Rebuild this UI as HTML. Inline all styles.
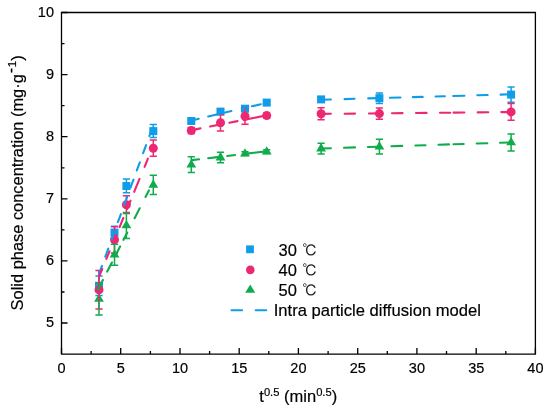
<!DOCTYPE html>
<html><head><meta charset="utf-8"><title>Intra particle diffusion model</title>
<style>
html,body{margin:0;padding:0;background:#fff;}
svg{display:block}
text{font-family:"Liberation Sans",sans-serif;fill:#000;stroke:#000;stroke-width:0.18px}
.tk{font-size:14.5px}
.lg{font-size:16.5px}
.tt{font-size:16.5px}
.sup{font-size:11.2px}
.cj{font-family:"Liberation Sans","IPAGothic","Noto Serif CJK SC",sans-serif;font-size:15.3px;stroke:none;fill:#222}
</style></head><body>
<svg width="550" height="413" viewBox="0 0 550 413">
<rect width="550" height="413" fill="#fff"/>
<path d="M99.0 276.0V295.6M95.4 276.0H102.6M95.4 295.6H102.6" stroke="#0f9dea" stroke-width="1.5" fill="none"/>
<path d="M114.5 226.3V238.8M110.9 226.3H118.1M110.9 238.8H118.1" stroke="#0f9dea" stroke-width="1.5" fill="none"/>
<path d="M126.4 179.1V192.8M122.8 179.1H130.0M122.8 192.8H130.0" stroke="#0f9dea" stroke-width="1.5" fill="none"/>
<path d="M153.3 124.6V137.6M149.7 124.6H156.9M149.7 137.6H156.9" stroke="#0f9dea" stroke-width="1.5" fill="none"/>
<path d="M191.3 119.1V122.9M187.7 119.1H194.9M187.7 122.9H194.9" stroke="#0f9dea" stroke-width="1.5" fill="none"/>
<path d="M220.5 109.7V113.4M216.9 109.7H224.1M216.9 113.4H224.1" stroke="#0f9dea" stroke-width="1.5" fill="none"/>
<path d="M245.0 106.8V110.6M241.4 106.8H248.6M241.4 110.6H248.6" stroke="#0f9dea" stroke-width="1.5" fill="none"/>
<path d="M266.7 100.8V104.5M263.1 100.8H270.3M263.1 104.5H270.3" stroke="#0f9dea" stroke-width="1.5" fill="none"/>
<path d="M321.1 97.5V101.3M317.5 97.5H324.7M317.5 101.3H324.7" stroke="#0f9dea" stroke-width="1.5" fill="none"/>
<path d="M379.4 93.0V103.4M375.8 93.0H383.0M375.8 103.4H383.0" stroke="#0f9dea" stroke-width="1.5" fill="none"/>
<path d="M511.1 87.0V102.2M507.5 87.0H514.7M507.5 102.2H514.7" stroke="#0f9dea" stroke-width="1.5" fill="none"/>
<rect x="95.0" y="281.8" width="8" height="8" fill="#0f9dea"/>
<rect x="110.5" y="228.6" width="8" height="8" fill="#0f9dea"/>
<rect x="122.4" y="182.0" width="8" height="8" fill="#0f9dea"/>
<rect x="149.3" y="127.1" width="8" height="8" fill="#0f9dea"/>
<rect x="187.3" y="117.0" width="8" height="8" fill="#0f9dea"/>
<rect x="216.5" y="107.6" width="8" height="8" fill="#0f9dea"/>
<rect x="241.0" y="104.7" width="8" height="8" fill="#0f9dea"/>
<rect x="262.7" y="98.6" width="8" height="8" fill="#0f9dea"/>
<rect x="317.1" y="95.4" width="8" height="8" fill="#0f9dea"/>
<rect x="375.4" y="94.2" width="8" height="8" fill="#0f9dea"/>
<rect x="507.1" y="90.6" width="8" height="8" fill="#0f9dea"/>
<path d="M99.0 270.6V309.1M95.4 270.6H102.6M95.4 309.1H102.6" stroke="#ed2873" stroke-width="1.5" fill="none"/>
<path d="M114.5 226.8V252.9M110.9 226.8H118.1M110.9 252.9H118.1" stroke="#ed2873" stroke-width="1.5" fill="none"/>
<path d="M126.4 195.8V213.5M122.8 195.8H130.0M122.8 213.5H130.0" stroke="#ed2873" stroke-width="1.5" fill="none"/>
<path d="M153.3 140.1V156.3M149.7 140.1H156.9M149.7 156.3H156.9" stroke="#ed2873" stroke-width="1.5" fill="none"/>
<path d="M191.3 127.4V133.6M187.7 127.4H194.9M187.7 133.6H194.9" stroke="#ed2873" stroke-width="1.5" fill="none"/>
<path d="M220.5 114.4V131.0M216.9 114.4H224.1M216.9 131.0H224.1" stroke="#ed2873" stroke-width="1.5" fill="none"/>
<path d="M245.0 108.1V124.3M241.4 108.1H248.6M241.4 124.3H248.6" stroke="#ed2873" stroke-width="1.5" fill="none"/>
<path d="M266.7 113.1V118.1M263.1 113.1H270.3M263.1 118.1H270.3" stroke="#ed2873" stroke-width="1.5" fill="none"/>
<path d="M321.1 107.8V119.7M317.5 107.8H324.7M317.5 119.7H324.7" stroke="#ed2873" stroke-width="1.5" fill="none"/>
<path d="M379.4 108.0V119.2M375.8 108.0H383.0M375.8 119.2H383.0" stroke="#ed2873" stroke-width="1.5" fill="none"/>
<path d="M511.1 103.5V120.3M507.5 103.5H514.7M507.5 120.3H514.7" stroke="#ed2873" stroke-width="1.5" fill="none"/>
<circle cx="99.0" cy="289.9" r="4.5" fill="#ed2873"/>
<circle cx="114.5" cy="239.8" r="4.5" fill="#ed2873"/>
<circle cx="126.4" cy="204.7" r="4.5" fill="#ed2873"/>
<circle cx="153.3" cy="148.2" r="4.5" fill="#ed2873"/>
<circle cx="191.3" cy="130.5" r="4.5" fill="#ed2873"/>
<circle cx="220.5" cy="122.7" r="4.5" fill="#ed2873"/>
<circle cx="245.0" cy="116.2" r="4.5" fill="#ed2873"/>
<circle cx="266.7" cy="115.6" r="4.5" fill="#ed2873"/>
<circle cx="321.1" cy="113.7" r="4.5" fill="#ed2873"/>
<circle cx="379.4" cy="113.6" r="4.5" fill="#ed2873"/>
<circle cx="511.1" cy="111.9" r="4.5" fill="#ed2873"/>
<path d="M99.0 282.7V315.0M95.4 282.7H102.6M95.4 315.0H102.6" stroke="#0eac4a" stroke-width="1.5" fill="none"/>
<path d="M114.5 244.2V265.3M110.9 244.2H118.1M110.9 265.3H118.1" stroke="#0eac4a" stroke-width="1.5" fill="none"/>
<path d="M126.4 212.4V238.5M122.8 212.4H130.0M122.8 238.5H130.0" stroke="#0eac4a" stroke-width="1.5" fill="none"/>
<path d="M153.3 175.2V194.5M149.7 175.2H156.9M149.7 194.5H156.9" stroke="#0eac4a" stroke-width="1.5" fill="none"/>
<path d="M191.3 156.8V172.4M187.7 156.8H194.9M187.7 172.4H194.9" stroke="#0eac4a" stroke-width="1.5" fill="none"/>
<path d="M220.5 152.2V162.8M216.9 152.2H224.1M216.9 162.8H224.1" stroke="#0eac4a" stroke-width="1.5" fill="none"/>
<path d="M245.0 151.7V155.5M241.4 151.7H248.6M241.4 155.5H248.6" stroke="#0eac4a" stroke-width="1.5" fill="none"/>
<path d="M266.7 149.8V153.5M263.1 149.8H270.3M263.1 153.5H270.3" stroke="#0eac4a" stroke-width="1.5" fill="none"/>
<path d="M321.1 143.2V153.9M317.5 143.2H324.7M317.5 153.9H324.7" stroke="#0eac4a" stroke-width="1.5" fill="none"/>
<path d="M379.4 139.2V154.1M375.8 139.2H383.0M375.8 154.1H383.0" stroke="#0eac4a" stroke-width="1.5" fill="none"/>
<path d="M511.1 133.9V150.9M507.5 133.9H514.7M507.5 150.9H514.7" stroke="#0eac4a" stroke-width="1.5" fill="none"/>
<path d="M99.0 293.4L103.9 301.7H94.1Z" fill="#0eac4a"/>
<path d="M114.5 249.3L119.4 257.6H109.6Z" fill="#0eac4a"/>
<path d="M126.4 220.0L131.3 228.3H121.5Z" fill="#0eac4a"/>
<path d="M153.3 179.5L158.2 187.8H148.4Z" fill="#0eac4a"/>
<path d="M191.3 159.2L196.2 167.5H186.4Z" fill="#0eac4a"/>
<path d="M220.5 152.1L225.4 160.4H215.6Z" fill="#0eac4a"/>
<path d="M245.0 148.2L249.9 156.5H240.1Z" fill="#0eac4a"/>
<path d="M266.7 146.2L271.6 154.5H261.8Z" fill="#0eac4a"/>
<path d="M321.1 143.1L326.0 151.4H316.2Z" fill="#0eac4a"/>
<path d="M379.4 141.3L384.3 149.6H374.5Z" fill="#0eac4a"/>
<path d="M511.1 137.0L516.0 145.3H506.2Z" fill="#0eac4a"/>
<path d="M99.0 270.6V301.2" stroke="#ed2873" stroke-width="1.5" fill="none"/>
<path d="M99.0 273.9L102.0 265.9M105.3 256.7L108.3 248.7M111.6 239.4L114.6 231.4M117.9 222.2L120.9 214.2M124.2 204.9L127.2 196.9M130.5 187.7L133.5 179.7M136.8 170.4L139.8 162.4M143.1 153.2L146.1 145.2M149.4 135.9L152.4 127.9" stroke="#0f9dea" stroke-width="2.1" stroke-linecap="round" fill="none"/>
<path d="M191.9 120.4L198.7 118.8M208.2 116.5L231.4 111.1M241.7 108.7L248.3 107.1M251.9 106.3L260.8 104.2M263.7 103.5L265.9 103.0" stroke="#0f9dea" stroke-width="2.1" stroke-linecap="round" fill="none"/>
<path d="M321.6 99.8L330.9 99.5M344.6 99.1L354.6 98.8M368.2 98.4L378.7 98.1M389.9 97.8L400.5 97.5M412.8 97.1L422.7 96.9M435.6 96.5L444.9 96.2M453.2 96.0L464.4 95.7M477.3 95.3L487.7 95.0M500.6 94.6L510.5 94.3" stroke="#0f9dea" stroke-width="2.1" stroke-linecap="round" fill="none"/>
<path d="M99.2 276.3L102.2 268.9M106.4 258.9L109.5 251.3M113.1 242.8L116.2 235.1M119.6 227.1L123.3 218.0M127.1 209.0L130.5 200.6M134.2 191.9L139.5 178.9M144.6 166.8L147.9 158.7" stroke="#ed2873" stroke-width="2.1" stroke-linecap="round" fill="none"/>
<path d="M191.9 130.1L200.5 128.4M210.1 126.5L223.3 123.9M229.4 122.7L237.5 121.1M243.7 119.9L265.9 115.5" stroke="#ed2873" stroke-width="2.1" stroke-linecap="round" fill="none"/>
<path d="M321.6 113.9L330.9 113.8M344.6 113.7L355.0 113.6M368.9 113.5L378.7 113.4M392.0 113.2L402.6 113.1M416.0 113.0L426.6 112.9M440.0 112.8L450.2 112.7M453.5 112.6L464.4 112.5M477.7 112.4L488.3 112.3M501.3 112.1L510.5 112.1" stroke="#ed2873" stroke-width="2.1" stroke-linecap="round" fill="none"/>
<path d="M98.0 289.5L102.9 280.0M107.2 271.6L111.9 262.5M115.2 256.0L120.1 246.5M123.5 239.8L127.2 232.7M134.6 218.2L139.7 208.3M145.5 196.9L148.9 190.4" stroke="#0eac4a" stroke-width="2.1" stroke-linecap="round" fill="none"/>
<path d="M191.9 160.1L199.0 159.3M208.2 158.2L217.3 157.1M227.3 156.0L235.0 155.0M244.7 153.9L265.9 151.4" stroke="#0eac4a" stroke-width="2.1" stroke-linecap="round" fill="none"/>
<path d="M321.6 148.5L330.9 148.2M344.0 147.8L355.0 147.4M367.9 147.0L378.7 146.7M391.4 146.3L402.2 145.9M415.4 145.5L425.5 145.2M438.5 144.8L449.0 144.4M453.5 144.3L463.7 144.0M476.7 143.5L487.3 143.2M500.0 142.8L510.5 142.5" stroke="#0eac4a" stroke-width="2.1" stroke-linecap="round" fill="none"/>
<path d="M61.5 12.5H535.4V354.1H61.5Z" fill="none" stroke="#000" stroke-width="1.3"/>
<path d="M61.5 354.1v-6M120.7 354.1v-6M180.0 354.1v-6M239.2 354.1v-6M298.4 354.1v-6M357.7 354.1v-6M416.9 354.1v-6M476.2 354.1v-6M535.4 354.1v-6M91.1 354.1v-3M150.4 354.1v-3M209.6 354.1v-3M268.8 354.1v-3M328.1 354.1v-3M387.3 354.1v-3M446.5 354.1v-3M505.8 354.1v-3M61.5 323.0h6M61.5 260.9h6M61.5 198.8h6M61.5 136.7h6M61.5 74.6h6M61.5 12.5h6M61.5 292.0h3M61.5 229.9h3M61.5 167.8h3M61.5 105.7h3M61.5 43.6h3" fill="none" stroke="#000" stroke-width="1.3"/>
<text x="61.5" y="372.6" text-anchor="middle" class="tk">0</text>
<text x="120.7" y="372.6" text-anchor="middle" class="tk">5</text>
<text x="180.0" y="372.6" text-anchor="middle" class="tk">10</text>
<text x="239.2" y="372.6" text-anchor="middle" class="tk">15</text>
<text x="298.4" y="372.6" text-anchor="middle" class="tk">20</text>
<text x="357.7" y="372.6" text-anchor="middle" class="tk">25</text>
<text x="416.9" y="372.6" text-anchor="middle" class="tk">30</text>
<text x="476.2" y="372.6" text-anchor="middle" class="tk">35</text>
<text x="535.4" y="372.6" text-anchor="middle" class="tk">40</text>
<text x="54" y="327.4" text-anchor="end" class="tk">5</text>
<text x="54" y="265.3" text-anchor="end" class="tk">6</text>
<text x="54" y="203.2" text-anchor="end" class="tk">7</text>
<text x="54" y="141.1" text-anchor="end" class="tk">8</text>
<text x="54" y="79.0" text-anchor="end" class="tk">9</text>
<text x="54" y="16.9" text-anchor="end" class="tk">10</text>

<rect x="246.1" y="245.4" width="7.8" height="7.8" fill="#0f9dea"/>
<circle cx="250.3" cy="269.9" r="4.3" fill="#ed2873"/>
<path d="M250.2 284.6L255.2 292.7H245.2Z" fill="#0eac4a"/>
<path d="M231.5 310.2H242.1M255.7 310.2H266.2" stroke="#0f9dea" stroke-width="2.1" stroke-linecap="round" fill="none"/>
<text x="278.5" y="255.8" class="lg">30</text><text x="302.2" y="256.0" class="cj">℃</text>
<text x="278.5" y="275.8" class="lg">40</text><text x="302.2" y="276.0" class="cj">℃</text>
<text x="278.5" y="295.8" class="lg">50</text><text x="302.2" y="296.0" class="cj">℃</text>
<text x="273.7" y="315.5" class="lg" style="font-size:16.6px">Intra particle diffusion model</text>


<text x="259.3" y="402.1" class="tt">t<tspan dy="-6.3" class="sup">0.5</tspan><tspan dy="6.3"> (min</tspan><tspan dy="-6.3" class="sup">0.5</tspan><tspan dy="6.3">)</tspan></text>
<g transform="translate(22.5 310.4) rotate(-90)"><text x="0" y="0" class="tt" style="font-size:16.42px">Solid phase concentration (mg·g</text><text x="237.1" y="-6.8" style="font-size:16px">-</text><text x="243.1" y="-6.8" style="font-size:11.5px">1</text><text x="249.7" y="0" class="tt" style="font-size:16.35px">)</text></g>

</svg>
</body></html>
